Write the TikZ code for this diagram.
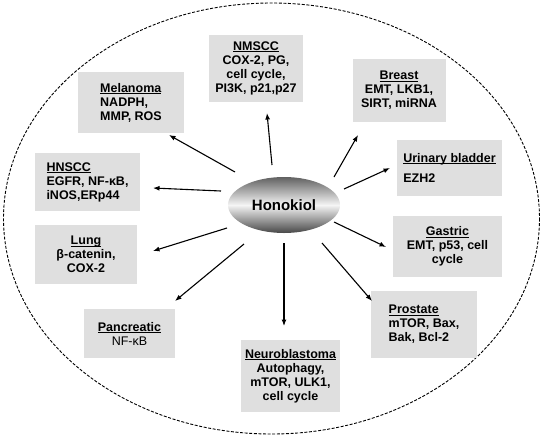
\documentclass[tikz,border=0pt]{standalone}
\usepackage{fontspec}
\setmainfont{Liberation Sans}
\usetikzlibrary{arrows.meta,shapes.geometric}
\newcommand{\uln}[1]{\setbox0\hbox{#1}\rlap{\rule[-1.8pt]{\wd0}{0.9pt}}\box0}
\definecolor{boxgray}{gray}{0.875}
\tikzset{
  cbox/.style={fill=boxgray, draw=none, inner sep=0pt, align=center,
    font=\fontsize{12.5}{14}\selectfont\bfseries},
  lbox/.style={cbox, align=left},
  arr/.style={line width=1.1pt, -{Latex[length=6.5pt,width=5pt]}},
  outer/.style={draw=black, line width=0.9pt, dash pattern=on 3pt off 1.6pt}
}
\begin{document}
\begin{tikzpicture}[x=1pt,y=-1pt]
\useasboundingbox (0,0) rectangle (543,437);
\fill[white] (0,0) rectangle (543,437);
% outer dashed ellipse
\draw[outer] (271.5,218.5) ellipse [x radius=268, y radius=215.5];

% boxes
\node[cbox, minimum width=94pt, minimum height=67pt] (nmscc) at (256,68.5)
  {\uln{NMSCC}\\COX-2, PG,\\cell cycle,\\PI3K, p21,p27};
\node[lbox, minimum width=106pt, minimum height=61pt] (mel) at (131,102.5)
  {\uln{Melanoma}\\NADPH,\\MMP, ROS};
\node[cbox, minimum width=93pt, minimum height=63pt] (breast) at (399,90.5)
  {\uln{Breast}\\EMT, LKB1,\\SIRT, miRNA};
\node[lbox, minimum width=105pt, minimum height=58pt] (hnscc) at (87.5,182)
  {\uln{HNSCC}\\EGFR, NF-κB,\\iNOS,ERp44};
\node[lbox, minimum width=105pt, minimum height=56pt] (urin) at (449.5,168)
  {\uln{Urinary bladder}\\[6pt]EZH2};
\node[cbox, minimum width=102pt, minimum height=59pt] (lung) at (86,254.5)
  {\uln{Lung}\\β-catenin,\\COX-2};
\node[cbox, minimum width=109pt, minimum height=61pt] (gastric) at (447.5,246.5)
  {\uln{Gastric}\\EMT, p53, cell\\cycle};
\node[cbox, minimum width=91pt, minimum height=49pt] (panc) at (129.5,333.5)
  {\uln{Pancreatic}\\{\mdseries NF-κB}};
\node[lbox, minimum width=106pt, minimum height=67pt] (prost) at (424,324.5)
  {\uln{Prostate}\\mTOR, Bax,\\Bak, Bcl-2};
\node[cbox, minimum width=99pt, minimum height=72pt] (neuro) at (290.5,376)
  {\uln{Neuroblastoma}\\Autophagy,\\mTOR, ULK1,\\cell cycle};

% central ellipse
\node[ellipse, minimum width=112pt, minimum height=56pt, inner sep=0pt,
  top color=black!62, bottom color=black!72, middle color=black!4,
  font=\fontsize{15}{17}\selectfont\bfseries] (hk) at (284,205) {Honokiol};

% arrow coordinates
\coordinate (s1) at (272,165);  \coordinate (e1) at (267,113);
\coordinate (s2) at (235,172);  \coordinate (e2) at (169,135);
\coordinate (s3) at (221,191);  \coordinate (e3) at (153,188);
\coordinate (s4) at (227,228);  \coordinate (e4) at (153,251);
\coordinate (s5) at (244,244);  \coordinate (e5) at (175,301);
\coordinate (s6) at (284,243);  \coordinate (e6) at (284,326);
\coordinate (s7) at (322,243);  \coordinate (e7) at (372,301);
\coordinate (s8) at (334,222);  \coordinate (e8) at (386,247);
\coordinate (s9) at (344,189);  \coordinate (e9) at (390,168);
\coordinate (s10) at (334,177); \coordinate (e10) at (358,135);

\foreach \i in {1,...,10} { \draw[arr] (s\i) -- (e\i); }
\end{tikzpicture}
\end{document}
